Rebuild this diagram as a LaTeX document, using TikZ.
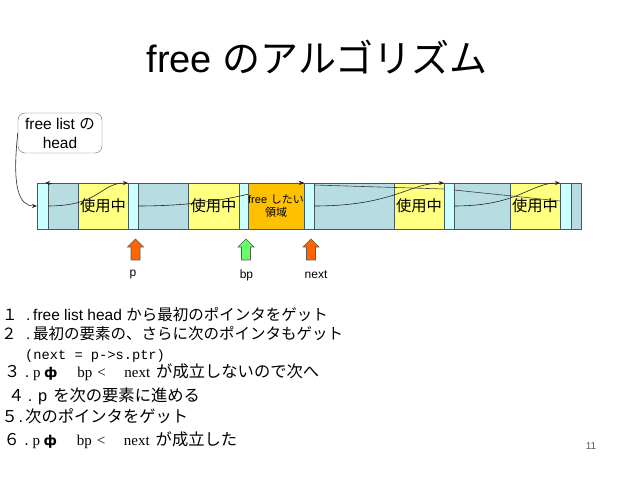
\documentclass[tikz,border=0pt]{standalone}
\usepackage{fontspec}
\setmainfont{Liberation Sans}
\newfontfamily\jp{Noto Sans CJK JP}
\newfontfamily\mono{Liberation Mono}
\newfontfamily\serif{Liberation Serif}
\newfontfamily\dejavu{DejaVu Sans}
\usetikzlibrary{arrows.meta}
\usetikzlibrary{positioning}

\pgfdeclarelayer{front}
\pgfsetlayers{main,front}

\definecolor{hdrcyan}{RGB}{204,255,255}
\definecolor{blkteal}{RGB}{183,221,226}
\definecolor{useyellow}{RGB}{255,255,128}
\definecolor{freeorange}{RGB}{255,192,0}
\definecolor{edgegray}{RGB}{70,90,92}
\definecolor{ptrorange}{RGB}{255,102,0}
\definecolor{bpgreen}{RGB}{102,255,102}

\begin{document}
\begin{tikzpicture}[x=1pt,y=-1pt,
		seg/.style={draw=edgegray,line width=0.7pt,anchor=west,minimum height=46pt,inner sep=0pt,outer sep=0pt},
		hdr/.style={seg,fill=hdrcyan},
		blk/.style={seg,fill=blkteal},
		usedseg/.style={seg,fill=useyellow,font=\jp\fontsize{15.3}{18}\selectfont},
		freeseg/.style={seg,fill=freeorange,text width=56pt,align=center,font=\fontsize{11}{13}\selectfont},
		ptr/.style={draw=black!85,line width=0.6pt,>={Stealth[length=5pt,width=4pt]},->},
		thinline/.style={draw=black!75,line width=0.6pt},
		upblock/.style={draw=black!65,line width=0.6pt},
		txtline/.style={anchor=base west,inner sep=0pt,font=\fontsize{15.5}{18}\selectfont},
		bigline/.style={txtline,font=\fontsize{16.3}{19}\selectfont},
		ptrlabel/.style={font=\fontsize{12}{14}\selectfont},
	]
		\useasboundingbox (0,0) rectangle (638,478);

		\node[font=\fontsize{38}{44}\selectfont,anchor=base] (title) at (317,73) {free {\jp のアルゴリズム}};

		% the free list head
		\node[draw=gray!80!black,rounded corners=7pt,minimum width=84pt,minimum height=40pt,align=center,
			font=\fontsize{15.5}{19}\selectfont,inner sep=0pt] (head) at (60,133) {free list {\jp の}\\head};

		% the strip of blocks
		\node[hdr,minimum width=11pt] (hdra) at (37,206) {};
		\node[blk,minimum width=30pt,right=0pt of hdra] (blka) {};
		\node[usedseg,minimum width=50pt,right=0pt of blka] (usea) {使用中};
		\node[hdr,minimum width=10pt,right=0pt of usea] (hdrb) {};
		\node[blk,minimum width=50pt,right=0pt of hdrb] (blkb) {};
		\node[usedseg,minimum width=51pt,right=0pt of blkb] (useb) {使用中};
		\node[hdr,minimum width=9pt,right=0pt of useb] (hdrc) {};
		\begin{pgfonlayer}{front}
			\node[freeseg,minimum width=56pt,right=0pt of hdrc] (freeblk) {free {\jp したい}\\{\jp 領域}};
			\draw[ptr] ([xshift=-1pt]freeblk.north east) -- (freeblk.north east);
		\end{pgfonlayer}
		\node[hdr,minimum width=10pt,right=0pt of freeblk] (hdrd) {};
		\node[blk,minimum width=80pt,right=0pt of hdrd] (blkd) {};
		\node[usedseg,minimum width=50pt,right=0pt of blkd] (used) {使用中};
		\node[hdr,minimum width=10pt,right=0pt of used] (hdre) {};
		\node[blk,minimum width=56pt,right=0pt of hdre] (blke) {};
		\node[usedseg,minimum width=50pt,right=0pt of blke] (usee) {使用中};
		\node[hdr,minimum width=11pt,right=0pt of usee] (hdrf) {};
		\node[blk,minimum width=10pt,right=0pt of hdrf] (blkf) {};

		% pointers
		\draw[ptr] (head.west) .. controls +(-6,55) and +(-18,0) .. (hdra.west);
		\draw[ptr] ([xshift=4pt]hdra.north east) -- ([xshift=-3pt]hdra.north east);
		\draw[ptr] (blka.west) .. controls +(52,0) and +(-28,0) .. (hdrb.north west);
		\draw[ptr] (blkb.west) .. controls +(100,0) and +(-30,0) .. (freeblk.north east);
		\draw[ptr] (blkd.west) .. controls +(80,0) and +(-35,0) .. (hdre.north west);
		\draw[ptr] (blke.west) .. controls +(65,0) and +(-30,0) .. (hdrf.north west);
		\draw[thinline] ([yshift=-2pt]blkd.north west) -- ([yshift=-6pt]hdre.north west);
		\draw[thinline] ([yshift=-7pt]blke.north west) -- ([yshift=-18pt]hdrf.north west);

		% p, bp, next
		\draw[upblock,fill=ptrorange] ([xshift=2.5pt,yshift=-10pt]hdrb.south) -- ++(8,8) -- ++(-3.5,0)
			-- ++(0,13) -- ++(-9,0) -- ++(0,-13) -- ++(-3.5,0) -- cycle;
		\draw[upblock,fill=bpgreen] ([xshift=2.5pt,yshift=-10pt]hdrc.south) -- ++(8,8) -- ++(-3.5,0)
			-- ++(0,13) -- ++(-9,0) -- ++(0,-13) -- ++(-3.5,0) -- cycle;
		\draw[upblock,fill=ptrorange] ([xshift=2pt,yshift=-10pt]hdrd.south) -- ++(8,8) -- ++(-3.5,0)
			-- ++(0,13) -- ++(-9,0) -- ++(0,-13) -- ++(-3.5,0) -- cycle;
		\node[ptrlabel] (plabel) at ([yshift=-46pt]hdrb.south) {p};
		\node[ptrlabel] (bplabel) at ([xshift=3pt,yshift=-46pt]hdrc.south) {bp};
		\node[ptrlabel] (nextlabel) at ([xshift=7pt,yshift=-46pt]hdrd.south) {next};

		% the steps
		\node[txtline] (stepa) at (2,321) {{\jp １}\hspace{8.5pt}.\hspace{2.7pt}free list head {\jp から最初のポインタをゲット}};
		\node[txtline] (stepb) at (1,340) {{\jp ２}\hspace{9.5pt}.\hspace{2.7pt}{\jp 最初の要素の、さらに次のポインタもゲット}};
		\node[txtline,font=\mono\fontsize{13.7}{16}\selectfont] (stepc) at (25,360) {(next = p->s.ptr)};
		\node[bigline] (stepd) at (4,378) {{\jp ３}\hspace{4.5pt}.\hspace{3.5pt}{\serif\fontsize{15}{18}\selectfont p\hspace{3.5pt}{\dejavu\bfseries\fontsize{13.5}{15}\selectfont ф}\hspace{20pt}bp\hspace{5pt}<\hspace{18.5pt}next}\hspace{6pt}{\jp が成立しないので次へ}};
		\node[bigline] (stepe) at (8,401.5) {{\jp ４}\hspace{3.5pt}.\hspace{5.5pt}p\hspace{6.2pt}{\jp を次の要素に進める}};
		\node[bigline] (stepf) at (1.5,423) {{\jp ５}\hspace{0.5pt}.\hspace{2.2pt}{\jp 次のポインタをゲット}};
		\node[bigline] (stepg) at (3.5,446) {{\jp ６}\hspace{4.5pt}.\hspace{3.5pt}{\serif\fontsize{15}{18}\selectfont p\hspace{3.5pt}{\dejavu\bfseries\fontsize{13.5}{15}\selectfont ф}\hspace{20pt}bp\hspace{5pt}<\hspace{18.5pt}next}\hspace{6pt}{\jp が成立した}};

		\node[text=gray!70!black,font=\fontsize{10}{12}\selectfont] (pagenum) at (591,446) {11};
	\end{tikzpicture}
\end{document}
